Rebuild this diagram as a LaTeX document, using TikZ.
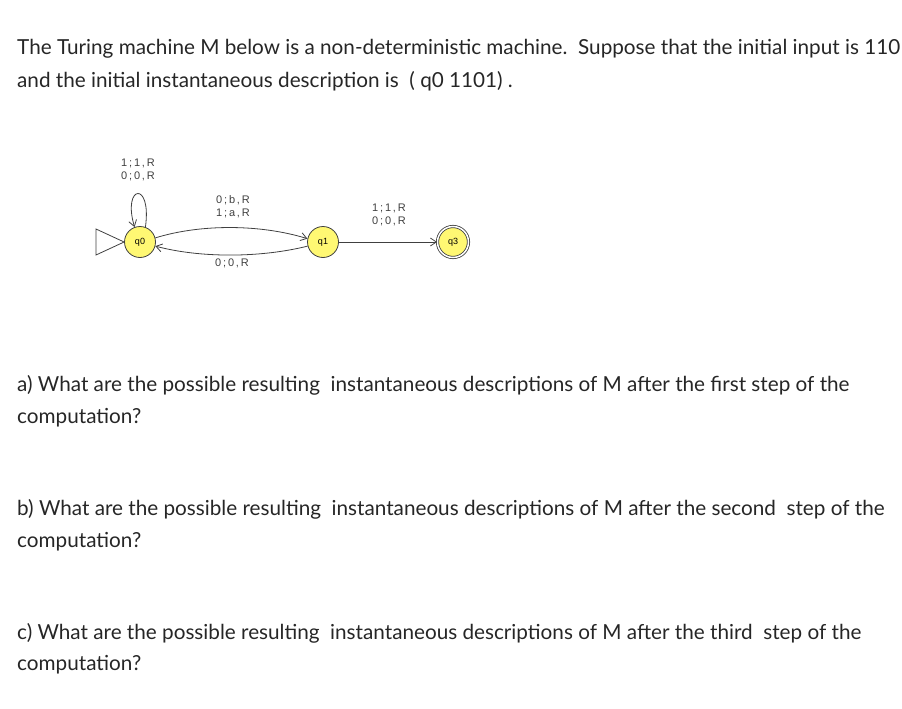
\documentclass[tikz,border=0pt]{standalone}
\usepackage{fontspec}
\setmainfont{Lato}
\newfontfamily\diagfont{Liberation Sans}
\usetikzlibrary{arrows.meta}
\begin{document}
\begin{tikzpicture}[x=1pt,y=-1pt,
  txt/.style={anchor=base west,inner sep=0pt,font=\fontsize{20.7}{24}\selectfont,text=black!85},
  st/.style={circle,draw=black!75,thick,fill=yellow!55,minimum size=31pt,inner sep=0pt,font=\diagfont\fontsize{9}{10}\selectfont},
  lab/.style={font=\diagfont\fontsize{11}{13}\selectfont,text=black!75,align=center,inner sep=0pt},
  ar/.style={draw=black!75,thick,-{Straight Barb[length=6pt,width=8pt]}}]
\useasboundingbox (0,0) rectangle (902,709);
\node[txt] (t1) at (17,55) {The Turing machine M below is a non-deterministic machine.\ \ Suppose that the initial input is 1101};
\node[txt] (t2) at (17,87) {and the initial instantaneous description is\ \ ( q0 1101) .};
\node[st] (q0) at (140,242) {q0};
\node[st] (q1) at (323,242) {q1};
\node[st,double,double distance=1.5pt] (q3) at (453,242) {q3};
\draw[black!75,thick] (q0.west) -- (96,229) -- (96,255) -- cycle;
\draw[ar] (q0.70) .. controls (152,180) and (122,185) .. (q0.110);
\node[lab] (l0) at (138,170) {1\,;\,1\,,\,R\\0\,;\,0\,,\,R};
\draw[ar] (q0.15) .. controls (200,224) and (260,224) .. (q1.168);
\draw[ar] (q1.195) .. controls (260,258) and (200,258) .. (q0.345);
\draw[ar] (q1) -- (q3);
\node[lab] (l1) at (233,207) {0\,;\,b\,,\,R\\1\,;\,a\,,\,R};
\node[lab] (l2) at (232,263) {0\,;\,0\,,\,R};
\node[lab] (l3) at (389,215) {1\,;\,1\,,\,R\\0\,;\,0\,,\,R};
\node[txt] (a1) at (17,391) {a) What are the possible resulting\ \ instantaneous descriptions of M after the first step of the};
\node[txt] (a2) at (17,423) {computation?};
\node[txt] (b1) at (17,515) {b) What are the possible resulting\ \ instantaneous descriptions of M after the second\ \ step of the};
\node[txt] (b2) at (17,547) {computation?};
\node[txt] (c1) at (17,639) {c) What are the possible resulting\ \ instantaneous descriptions of M after the third\ \ step of the};
\node[txt] (c2) at (17,670) {computation?};
\end{tikzpicture}
\end{document}
